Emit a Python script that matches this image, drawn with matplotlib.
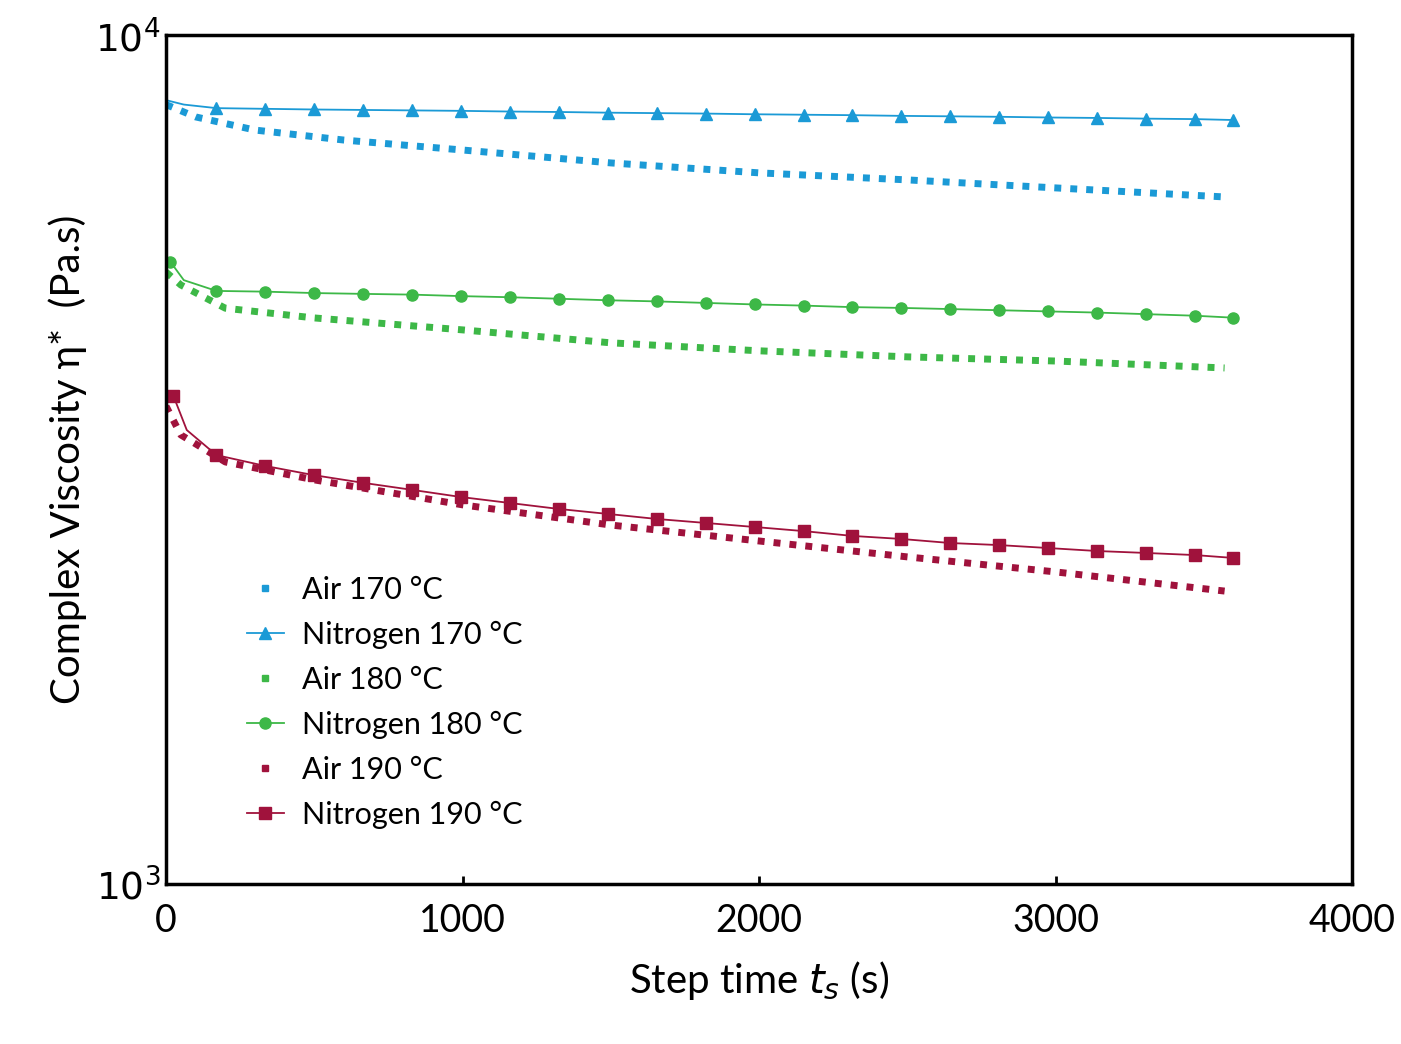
import matplotlib
matplotlib.use('Agg')
import matplotlib.pyplot as plt
from matplotlib.lines import Line2D

plt.rcParams['font.family'] = ['Lato', 'DejaVu Sans']

BLUE = '#1b9ad6'
GREEN = '#3db847'
RED = '#a0123c'

# nitrogen marker times (s)
t_n = [170, 335, 500, 665, 830, 995, 1160, 1325, 1490, 1655, 1820, 1985,
       2150, 2315, 2480, 2645, 2810, 2975, 3140, 3305, 3470, 3600]

n170 = [8200, 8185, 8170, 8160, 8150, 8140, 8125, 8115, 8100, 8090, 8080,
        8065, 8055, 8045, 8030, 8020, 8010, 7995, 7985, 7970, 7960, 7940]
n170_start_t = [0, 60]
n170_start = [8380, 8280]

n180 = [4995, 4985, 4966, 4955, 4945, 4925, 4910, 4890, 4870, 4855, 4835,
        4815, 4800, 4780, 4770, 4755, 4740, 4725, 4710, 4690, 4670, 4645]
n180_start_t = [15, 60]
n180_start = [5404, 5143]

n190 = [3200, 3107, 3030, 2968, 2912, 2856, 2810, 2765, 2728, 2691, 2662,
        2633, 2604, 2570, 2549, 2521, 2507, 2487, 2467, 2454, 2440, 2421]
n190_start_t = [25, 70]
n190_start = [3757, 3425]

# air series: read at key times, drawn as a dense dotted trace
air170_t = [0, 100, 300, 600, 1000, 1500, 2000, 2500, 3000, 3570]
air170 = [8280, 8007, 7727, 7520, 7320, 7068, 6880, 6750, 6605, 6445]
air180_t = [0, 50, 200, 500, 1000, 1500, 2000, 2500, 3000, 3570]
air180 = [5257, 5076, 4766, 4642, 4494, 4339, 4246, 4177, 4130, 4053]
air190_t = [0, 50, 200, 500, 1000, 1500, 2000, 2500, 3000, 3570]
air190 = [3655, 3380, 3141, 2992, 2796, 2647, 2535, 2428, 2331, 2213]

fig = plt.figure(figsize=(14.01, 10.44), dpi=100)
ax = fig.add_axes([0.1185, 0.1533, 0.8466, 0.8132])


def air(t, v, color):
    ax.plot(t, v, color=color, lw=5, dashes=(1, 1.3), dash_capstyle='butt')


def nitro(t0, v0, t, v, color, marker, ms, first_marker):
    ax.plot(t0 + t, v0 + v, color=color, lw=1.3)
    mt = ([t0[0]] if first_marker else []) + t
    mv = ([v0[0]] if first_marker else []) + v
    ax.plot(mt, mv, ls='none', marker=marker, color=color, ms=ms)


air(air170_t, air170, BLUE)
nitro(n170_start_t, n170_start, t_n, n170, BLUE, '^', 9, False)
air(air180_t, air180, GREEN)
nitro(n180_start_t, n180_start, t_n, n180, GREEN, 'o', 8, True)
air(air190_t, air190, RED)
nitro(n190_start_t, n190_start, t_n, n190, RED, 's', 8, True)

ax.set_yscale('log')
ax.set_xlim(0, 4000)
ax.set_ylim(1000, 10000)
ax.set_xticks([0, 1000, 2000, 3000, 4000])
ax.set_yticks([1000, 10000])
ax.set_yticklabels(['$10^3$', '$10^4$'])
ax.minorticks_off()
ax.tick_params(labelsize=27, direction='in', length=6, width=2)
ax.tick_params(axis='x', pad=14)
ax.tick_params(axis='y', pad=4)
for s in ax.spines.values():
    s.set_linewidth(2.5)

ax.set_xlabel('Step time $t_s$ (s)', fontsize=29, labelpad=14)
ax.set_ylabel('Complex Viscosity η*  (Pa.s)', fontsize=29, labelpad=6)

handles = [
    Line2D([], [], ls='none', marker='s', ms=5, color=BLUE),
    Line2D([], [], color=BLUE, marker='^', ms=9, lw=1.3),
    Line2D([], [], ls='none', marker='s', ms=5, color=GREEN),
    Line2D([], [], color=GREEN, marker='o', ms=8, lw=1.3),
    Line2D([], [], ls='none', marker='s', ms=5, color=RED),
    Line2D([], [], color=RED, marker='s', ms=8, lw=1.3),
]
labels = ['Air 170 °C', 'Nitrogen 170 °C', 'Air 180 °C', 'Nitrogen 180 °C',
          'Air 190 °C', 'Nitrogen 190 °C']
ax.legend(handles, labels, loc='upper left', bbox_to_anchor=(0.045, 0.395),
          frameon=False, fontsize=22, handlelength=1.2, handletextpad=0.6,
          labelspacing=0.55)

fig.savefig('out.png', dpi=100)
